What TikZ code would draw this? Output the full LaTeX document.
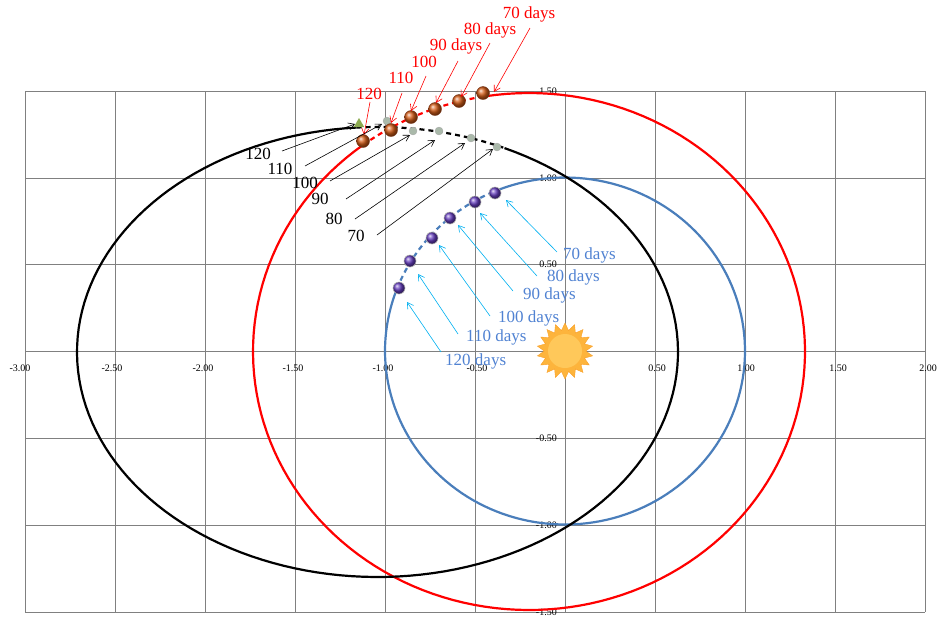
\documentclass[tikz,border=0pt]{standalone}
\usepackage{fontspec}
\setmainfont{Liberation Serif}
\usetikzlibrary{shapes.geometric,arrows.meta}
\definecolor{gridgray}{RGB}{128,128,128}
\definecolor{orbblue}{RGB}{74,126,187}
\definecolor{lblblue}{RGB}{80,130,210}
\definecolor{cyanarr}{RGB}{0,176,240}
\tikzset{
  grid line/.style={gridgray,line width=0.6pt},
  axlbl/.style={font=\fontsize{10}{10}\selectfont,inner sep=0pt},
  orbit/.style={line width=2.2pt},
  dashorb/.style={line width=2.2pt,dash pattern=on 5pt off 4pt},
  mars/.style={circle,inner sep=0pt,minimum size=13pt,ball color={rgb,255:red,215;green,95;blue,25},draw={rgb,255:red,120;green,50;blue,20},line width=0.4pt},
  earth/.style={circle,inner sep=0pt,minimum size=12pt,ball color={rgb,255:red,100;green,60;blue,190},draw=gray!60,line width=0.6pt},
  probe/.style={circle,inner sep=0pt,minimum size=8pt,fill={rgb,255:red,170;green,185;blue,170},draw=gray!70,line width=0.3pt},
  redlbl/.style={red,font=\fontsize{17}{17}\selectfont,inner sep=1pt},
  blklbl/.style={black,font=\fontsize{17}{17}\selectfont,inner sep=1pt},
  blulbl/.style={lblblue,font=\fontsize{17}{17}\selectfont,inner sep=1pt},
  redarr/.style={red,line width=0.6pt,-{Straight Barb[length=6pt,width=7pt]}},
  blkarr/.style={black,line width=0.6pt,-{Straight Barb[length=6pt,width=7pt]}},
  bluarr/.style={cyanarr,line width=0.6pt,-{Straight Barb[length=6pt,width=7pt]}},
}
\begin{document}
\begin{tikzpicture}[x=1pt,y=-1pt]
\useasboundingbox (0,0) rectangle (952,625);
% grid
\foreach \gx in {25,115,205,295,385,475,565,655,745,835,925}
  \draw[grid line] (\gx,91) -- (\gx,612);
\foreach \gy in {91,178,264,351,438,525,612}
  \draw[grid line] (25,\gy) -- (925,\gy);
% axis labels
\foreach \gx/\t in {20/-3.00,112/-2.50,203/-2.00,293/-1.50,383/-1.00,477/-0.50,657/0.50,746/1.00,838/1.50,928/2.00}
  \node[axlbl] at (\gx,368) {\t};
\foreach \gy/\t in {91/1.50,178/1.00,264/0.50,438/-0.50,525/-1.00,612/-1.50}
  \node[axlbl,anchor=east] at (557,\gy) {\t};
% orbits
\draw[orbit,orbblue] plot[domain=-113:201,samples=150] ({565+180*cos(\x)},{351+173.5*sin(\x)});
\draw[dashorb,orbblue] plot[domain=-159:-113,samples=30] ({565+180*cos(\x)},{351+173.5*sin(\x)});
\draw[orbit,red] plot[domain=-99:233,samples=150] ({529+276*cos(\x)},{351.5+258.5*sin(\x)});
\draw[dashorb,red] plot[domain=-127:-99,samples=30] ({529+276*cos(\x)},{351.5+258.5*sin(\x)});
\draw[orbit,black] plot[domain=-65:266,samples=150] ({377.5+300.5*cos(\x)},{352+225*sin(\x)});
\draw[dashorb,black] plot[domain=-94:-65,samples=30] ({377.5+300.5*cos(\x)},{352+225*sin(\x)});
% sun
\node[star,star points=18,star point ratio=1.35,minimum size=56pt,inner sep=0pt,fill={rgb,255:red,253;green,180;blue,60},draw={rgb,255:red,250;green,160;blue,40}] (sun) at (565,351) {};
\node[circle,minimum size=34pt,inner sep=0pt,fill={rgb,255:red,255;green,200;blue,90}] (suncore) at (565,351) {};
% probes
\node[probe] (p70) at (497,147) {};
\node[probe] (p80) at (471,138) {};
\node[probe] (p90) at (439,131) {};
\node[probe] (p100) at (413,131) {};
\node[probe] (p110) at (387,121) {};
\node[regular polygon,regular polygon sides=3,inner sep=0pt,minimum size=12pt,fill={rgb,255:red,140;green,170;blue,80}] (p120) at (359,124) {};
% mars
\node[mars] (m70) at (483,93) {};
\node[mars] (m80) at (459,101) {};
\node[mars] (m90) at (435,109) {};
\node[mars] (m100) at (411,117) {};
\node[mars] (m110) at (391,130) {};
\node[mars] (m120) at (363,141) {};
% earth
\node[earth] (e70) at (495,193) {};
\node[earth] (e80) at (475,202) {};
\node[earth] (e90) at (450,218) {};
\node[earth] (e100) at (432,238) {};
\node[earth] (e110) at (410,261) {};
\node[earth] (e120) at (399,288) {};
% red labels
\node[redlbl] (r70) at (529,14) {70 days};
\node[redlbl] (r80) at (490,30) {80 days};
\node[redlbl] (r90) at (456,46) {90 days};
\node[redlbl] (r100) at (424,62) {100};
\node[redlbl] (r110) at (401,78) {110};
\node[redlbl] (r120) at (369,94) {120};
\coordinate (rm70) at (494,92); \coordinate (rm80) at (461,97);
\coordinate (rm90) at (436,103); \coordinate (rm100) at (411,111);
\coordinate (rm110) at (391,123); \coordinate (rm120) at (364,135);
\draw[redarr] (530,28) -- (rm70);
\draw[redarr] (490,43) -- (rm80);
\draw[redarr] (458,61) -- (rm90);
\draw[redarr] (426,76) -- (rm100);
\draw[redarr] (402,93) -- (rm110);
\draw[redarr] (370,102) -- (rm120);
% black labels
\node[blklbl] (b120) at (258,154) {120};
\node[blklbl] (b110) at (280,169) {110};
\node[blklbl] (b100) at (305,183) {100};
\node[blklbl] (b90) at (320,199) {90};
\node[blklbl] (b80) at (334,219) {80};
\node[blklbl] (b70) at (356,236) {70};
\coordinate (bp120) at (355,124); \coordinate (bp110) at (382,124);
\coordinate (bp100) at (410,135); \coordinate (bp90) at (435,140);
\coordinate (bp80) at (465,143); \coordinate (bp70) at (493,149);
\draw[blkarr] (282,151) -- (bp120);
\draw[blkarr] (305,166) -- (bp110);
\draw[blkarr] (330,181) -- (bp100);
\draw[blkarr] (346,199) -- (bp90);
\draw[blkarr] (355,219) -- (bp80);
\draw[blkarr] (377,235) -- (bp70);
% blue labels
\node[blulbl,anchor=west] (u70) at (562,255) {70 days};
\node[blulbl,anchor=west] (u80) at (546,277) {80 days};
\node[blulbl,anchor=west] (u90) at (522,295) {90 days};
\node[blulbl,anchor=west] (u100) at (497,318) {100 days};
\node[blulbl,anchor=west] (u110) at (465,337) {110 days};
\node[blulbl,anchor=west] (u120) at (444,361) {120 days};
\coordinate (ue70) at (506,200); \coordinate (ue80) at (480,213);
\coordinate (ue90) at (458,225); \coordinate (ue100) at (439,245);
\coordinate (ue110) at (418,274); \coordinate (ue120) at (407,302);
\draw[bluarr] (557,252) -- (ue70);
\draw[bluarr] (537,276) -- (ue80);
\draw[bluarr] (513,291) -- (ue90);
\draw[bluarr] (490,316) -- (ue100);
\draw[bluarr] (458,334) -- (ue110);
\draw[bluarr] (441,352) -- (ue120);
\end{tikzpicture}
\end{document}
